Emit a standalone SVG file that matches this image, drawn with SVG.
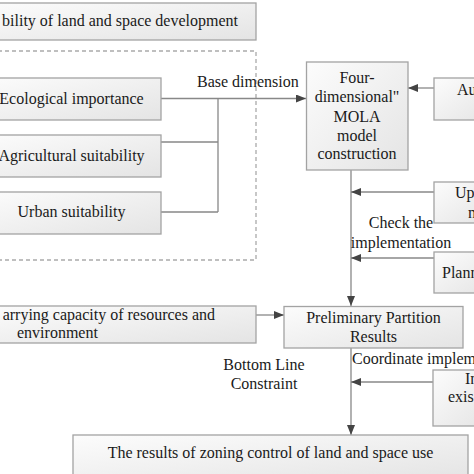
<svg xmlns="http://www.w3.org/2000/svg" width="474" height="474" viewBox="0 0 474 474">
<defs>
<linearGradient id="g" x1="0" y1="0" x2="1" y2="1">
<stop offset="0" stop-color="#fcfcfc"/>
<stop offset="1" stop-color="#e4e4e4"/>
</linearGradient>
<marker id="ah" viewBox="0 0 10 8" refX="10" refY="4" markerWidth="10" markerHeight="8" markerUnits="userSpaceOnUse" orient="auto">
<path d="M0,0 L10,4 L0,8 Z" fill="#444"/>
</marker>
</defs>
<style>
.b{fill:url(#g);stroke:#a3a3a3;stroke-width:1.3}
.t{font-family:"Liberation Serif","Times New Roman",serif;font-size:16px;fill:#1a1a1a}
.c{text-anchor:middle}
.l{fill:none;stroke:#888;stroke-width:1.3}
.a{marker-end:url(#ah)}
</style>
<rect width="474" height="474" fill="#fff"/>
<rect x="-2" y="51" width="258" height="209" fill="none" stroke="#aaa" stroke-width="1.3" stroke-dasharray="4,3"/>
<g id="connectors">
<path class="l a" d="M161,98.5 H306"/>
<path class="l" d="M161,142 H218 M161,212 H218 M218,98.5 V212"/>
<path class="l a" d="M434,88 H408"/>
<path class="l a" d="M351,170 V306"/>
<path class="l a" d="M434,192 H351"/>
<path class="l a" d="M434,258 H351"/>
<path class="l a" d="M256,315 H284"/>
<path class="l a" d="M351,348 V435"/>
<path class="l a" d="M433,382 H351"/>
</g>
<g id="top">
<rect class="b" x="-20" y="3" width="276" height="37"/>
<text class="t" x="238" y="26" text-anchor="end">bility of land and space development</text>
</g>
<g id="eco">
<rect class="b" x="-18" y="78" width="179" height="42"/>
<text class="t c" x="71.5" y="104">Ecological importance</text>
</g>
<g id="agri">
<rect class="b" x="-18" y="135" width="179" height="42"/>
<text class="t c" x="71.5" y="161">Agricultural suitability</text>
</g>
<g id="urban">
<rect class="b" x="-18" y="192" width="179" height="42"/>
<text class="t c" x="71.5" y="217">Urban suitability</text>
</g>
<g id="base-label"><text class="t" x="197" y="87">Base dimension</text></g>
<g id="mola">
<rect class="b" x="306.5" y="62" width="101.5" height="108"/>
<text class="t c" x="357" y="83">Four-</text>
<text class="t c" x="357" y="102">dimensional"</text>
<text class="t c" x="357" y="122">MOLA</text>
<text class="t c" x="357" y="141">model</text>
<text class="t c" x="357" y="159">construction</text>
</g>
<g id="au">
<rect class="b" x="434" y="78" width="60" height="42"/>
<text class="t" x="457" y="95">Au</text>
</g>
<g id="up">
<rect class="b" x="434" y="182" width="60" height="41"/>
<text class="t" x="455" y="198">Up</text>
<text class="t" x="468" y="218">m</text>
</g>
<g id="check-label">
<text class="t c" x="401" y="228">Check the</text>
<text class="t c" x="401" y="248">implementation</text>
</g>
<g id="plan">
<rect class="b" x="434" y="252" width="60" height="41"/>
<text class="t" x="442" y="278">Plann</text>
</g>
<g id="carrying">
<rect class="b" x="-20" y="306" width="276" height="37"/>
<text class="t" x="215" y="320" text-anchor="end">arrying capacity of resources and</text>
<text class="t" x="17" y="338">environment</text>
</g>
<g id="prelim">
<rect class="b" x="284" y="306.5" width="179" height="41.5"/>
<text class="t c" x="373.5" y="323">Preliminary Partition</text>
<text class="t c" x="373.5" y="342">Results</text>
</g>
<g id="coord-label"><text class="t" x="352" y="364">Coordinate implem</text></g>
<g id="bottom-label">
<text class="t c" x="264" y="370">Bottom Line</text>
<text class="t c" x="264" y="389">Constraint</text>
</g>
<g id="in">
<rect class="b" x="433" y="370" width="60" height="56"/>
<text class="t" x="465" y="384">In</text>
<text class="t" x="448" y="402">exis</text>
</g>
<g id="results">
<rect class="b" x="73" y="435" width="395" height="45"/>
<text class="t c" x="270.5" y="458">The results of zoning control of land and space use</text>
</g>
</svg>
